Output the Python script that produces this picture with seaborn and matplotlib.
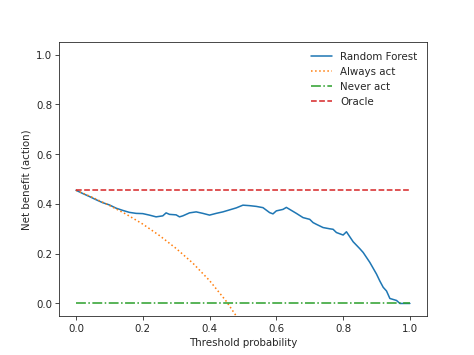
import seaborn as sns
from matplotlib import pyplot as plt
import numpy as np
import pandas as pd

# threshold probabilities and net benefit
rf_threshold = [0.00, 0.02, 0.04, 0.06, 0.08, 0.10, 0.12, 0.14, 0.16, 0.18,
                0.20, 0.22, 0.24, 0.26, 0.27, 0.28, 0.30, 0.31, 0.32, 0.34,
                0.36, 0.38, 0.40, 0.42, 0.44, 0.46, 0.48, 0.50, 0.52, 0.54,
                0.56, 0.58, 0.59, 0.60, 0.62, 0.63, 0.65, 0.66, 0.68, 0.70,
                0.71, 0.72, 0.74, 0.76, 0.77, 0.78, 0.80, 0.81, 0.83, 0.85,
                0.86, 0.88, 0.90, 0.91, 0.92, 0.93, 0.94, 0.96, 0.97, 0.98,
                1.00]
rf_benefit = [0.455, 0.442, 0.430, 0.417, 0.405, 0.396, 0.383, 0.374, 0.366, 0.362,
              0.361, 0.355, 0.348, 0.352, 0.364, 0.358, 0.356, 0.348, 0.352, 0.364,
              0.368, 0.362, 0.355, 0.362, 0.368, 0.376, 0.384, 0.395, 0.393, 0.390,
              0.385, 0.365, 0.360, 0.372, 0.378, 0.386, 0.370, 0.362, 0.345, 0.338,
              0.325, 0.318, 0.305, 0.300, 0.298, 0.285, 0.275, 0.288, 0.248, 0.220,
              0.205, 0.165, 0.118, 0.090, 0.065, 0.050, 0.020, 0.012, 0.000, 0.000,
              0.000]

all_threshold = [0.00, 0.05, 0.10, 0.15, 0.20, 0.25, 0.30, 0.35, 0.40, 0.45, 0.50]
all_benefit = [0.455, 0.426, 0.394, 0.359, 0.319, 0.273, 0.221, 0.162, 0.092, 0.009, -0.090]

none_threshold = [0.0, 1.0]
none_benefit = [0.0, 0.0]

oracle_threshold = [0.0, 1.0]
oracle_benefit = [0.455, 0.455]

sns.set_style("ticks")
fig, ax = plt.subplots(figsize=(6.4, 4.8), dpi=74.0625)

sns.lineplot(x=rf_threshold, y=rf_benefit, ax=ax, color="tab:blue",
             label="Random Forest")
sns.lineplot(x=all_threshold, y=all_benefit, ax=ax, color="tab:orange",
             linestyle=":", label="Always act")
sns.lineplot(x=none_threshold, y=none_benefit, ax=ax, color="tab:green",
             linestyle="-.", label="Never act")
sns.lineplot(x=oracle_threshold, y=oracle_benefit, ax=ax, color="tab:red",
             linestyle="--", label="Oracle")

ax.set_xlim(-0.05, 1.05)
ax.set_ylim(-0.05, 1.05)
ax.set_xticks(np.arange(0, 1.01, 0.2))
ax.set_yticks(np.arange(0, 1.01, 0.2))
ax.set_xlabel("Threshold probability")
ax.set_ylabel("Net benefit (action)")
ax.legend(loc="upper right", frameon=False)

plt.savefig("out.png")
